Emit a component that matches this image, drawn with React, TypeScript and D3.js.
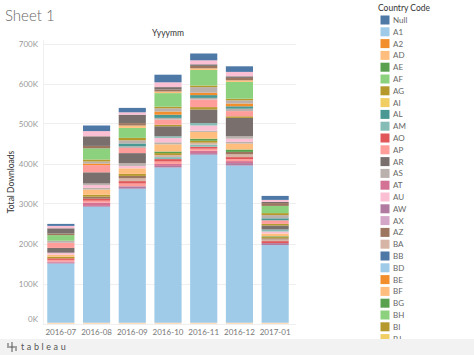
import React from "react";
import * as d3 from "d3";

const months = ["2016-07", "2016-08", "2016-09", "2016-10", "2016-11", "2016-12", "2017-01"];

// Legend (first rows visible in the reference)
const legendCodes = ["Null","A1","A2","AD","AE","AF","AG","AI","AL","AM","AO","AP","AR","AS","AT","AU","AW","AX","AZ","BA","BB","BD","BE","BF","BG","BH","BI","BJ"];

// Full alphabetical code list (determines colour cycling)
const allCodes = ["Null","A1","A2","AD","AE","AF","AG","AI","AL","AM","AO","AP","AR","AS","AT","AU","AW","AX","AZ","BA",
  "BB","BD","BE","BF","BG","BH","BI","BJ","BM","BN","BO","BR","BS","BT","BW","BY","BZ","CA","CD","CF",
  "CG","CH","CI","CL","CM","CN","CO","CR","CU","CV","CY","CZ","DE","DK","DO","DZ","EC","EE","EG","ES",
  "FI","FR","GB","GE","GH","GR","GT","HK","HN","HR","HU","ID","IE","IL","IN","IQ","IR","IT","JM","JO",
  "JP","KE","KH","KR","KW","KZ","LB","LK","MA","MX","MY","NG","NL","NP","PE","PH","PK","PL","PT","RO",
  "RS","RU","SA","SE","SG","TH","TR","TW","UA","US","VN","ZA"];

// Stack order, bottom to top
const stackCodes = ["GE","RU","PK","PE","BR","VN","MX","JO","PT","TR","KW","KR","IL","PH","US","NP","DE","CO","ID","DK","UA","GB","BT","LB","CN","SE","EG","NL","IQ","Null"];

// Downloads in thousands, one row per stackCodes entry, one column per month
const downloadsK = [
  [2, 2, 2, 2, 2, 2, 2],
  [148, 290, 335, 388, 420, 393, 194],
  [2, 2, 6, 4, 4, 6, 5],
  [3, 8, 0, 5, 6, 5, 0],
  [4, 5, 7, 6, 5, 5, 0],
  [4, 5, 6, 6, 5, 5, 5],
  [0, 0, 0, 5, 5, 0, 0],
  [0, 0, 7, 5, 5, 7, 4],
  [0, 5, 6, 0, 0, 6, 3],
  [4, 5, 5, 5, 5, 0, 3],
  [0, 0, 0, 4, 5, 6, 2],
  [5, 13, 14, 18, 17, 15, 7],
  [0, 4, 0, 5, 3, 4, 0],
  [5, 7, 6, 11, 13, 8, 5],
  [0, 0, 0, 4, 6, 0, 5],
  [0, 4, 7, 0, 0, 6, 0],
  [12, 28, 25, 25, 34, 46, 10],
  [0, 0, 0, 4, 6, 4, 4],
  [13, 18, 13, 13, 19, 13, 9],
  [5, 0, 4, 4, 4, 6, 0],
  [0, 0, 7, 8, 7, 6, 5],
  [0, 4, 0, 8, 6, 7, 0],
  [0, 5, 8, 8, 14, 8, 8],
  [0, 5, 6, 4, 4, 4, 5],
  [14, 28, 25, 34, 39, 42, 18],
  [0, 0, 6, 4, 4, 4, 0],
  [4, 6, 6, 5, 6, 6, 7],
  [13, 24, 21, 6, 4, 4, 3],
  [6, 13, 6, 12, 10, 11, 5],
  [5, 14, 11, 19, 17, 14, 10],
];

const yTicks = [0, 100000, 200000, 300000, 400000, 500000, 600000, 700000];

const palette = ["#4E79A7","#A0CBE8","#F28E2B","#FFBE7D","#59A14F","#8CD17D","#B6992D","#F1CE63","#499894","#86BCB6",
  "#E15759","#FF9D9A","#79706E","#BAB0AC","#D37295","#FABFD2","#B07AA1","#D4A6C8","#9D7660","#D7B5A6"];

const colorOf = (code: string) => palette[allCodes.indexOf(code) % 20];

const W = 474, H = 355;
const FONT = "Lato, 'Open Sans', sans-serif";

export default function App() {
  const rows = months.map((m, j) => {
    const r: any = { month: m };
    stackCodes.forEach((c, i) => (r[c] = downloadsK[i][j] * 1000));
    return r;
  });
  const series = d3.stack<any>().keys(stackCodes)(rows);

  const x = d3.scaleBand<string>().domain(months).range([43, 293]).paddingInner(0.24).paddingOuter(0.12);
  const y = d3.scaleLinear().domain([0, 700000]).range([323.5, 43.5]);
  const fmt = (v: number) => `${v / 1000}K`;

  const legendY = d3.scaleLinear().domain([0, 1]).range([20, 31.8]);

  return (
    <svg width={W} height={H} style={{ position: "absolute", left: 0, top: 0, fontFamily: FONT }}>
      <rect x={0} y={0} width={W} height={H} fill="#ffffff" />
      <text x={5} y={21} fontSize={15} fill="#666" fontWeight={300}>Sheet 1</text>
      <text x={168} y={36} fontSize={8.5} fill="#333" textAnchor="middle">Yyyymm</text>

      {/* gridlines */}
      {yTicks.map((t) => (
        <line key={t} x1={43} x2={296} y1={Math.round(y(t)) + 0.5} y2={Math.round(y(t)) + 0.5} stroke="#efefef" strokeWidth={1} />
      ))}
      <line x1={43.5} x2={43.5} y1={40} y2={324} stroke="#f0f0f0" />

      {/* y tick labels */}
      {yTicks.map((t) => (
        <text key={t} x={38} y={t === 0 ? y(t) - 2 : y(t) + 3} fontSize={8} fill="#999" textAnchor="end">
          {fmt(t)}
        </text>
      ))}
      <text transform={`translate(14,182) rotate(-90)`} fontSize={8.5} fill="#333" textAnchor="middle">Total Downloads</text>

      {/* bars */}
      {series.map((s) => (
        <g key={s.key} fill={colorOf(s.key)}>
          {s.map((d: any, j: number) => {
            const h = y(d[0]) - y(d[1]);
            if (h <= 0) return null;
            return <rect key={j} x={x(months[j])} y={y(d[1])} width={x.bandwidth()} height={h} />;
          })}
        </g>
      ))}

      {/* x labels */}
      {months.map((m) => (
        <text key={m} x={(x(m) as number) + x.bandwidth() / 2} y={335} fontSize={8} fill="#777" textAnchor="middle">
          {m}
        </text>
      ))}

      {/* legend */}
      <text x={378} y={11} fontSize={8.5} fill="#333">Country Code</text>
      {legendCodes.map((c, i) => (
        <g key={c} transform={`translate(0,${legendY(i)})`}>
          <rect x={380.5} y={-4.5} width={9} height={9} fill={colorOf(c)} />
          <text x={393} y={3} fontSize={8} fill="#666">{c}</text>
        </g>
      ))}

      {/* footer */}
      <rect x={0} y={339} width={W} height={H - 339} fill="#f2f2f2" />
      <g stroke="#555" strokeWidth={1}>
        <line x1={12} x2={12} y1={342} y2={352} />
        <line x1={7} x2={17} y1={347} y2={347} />
        <line x1={8} x2={8} y1={343} y2={346} />
        <line x1={16} x2={16} y1={348} y2={351} />
      </g>
      <text x={21} y={350} fontSize={9} fill="#555" letterSpacing={2.6}>tableau</text>
    </svg>
  );
}
